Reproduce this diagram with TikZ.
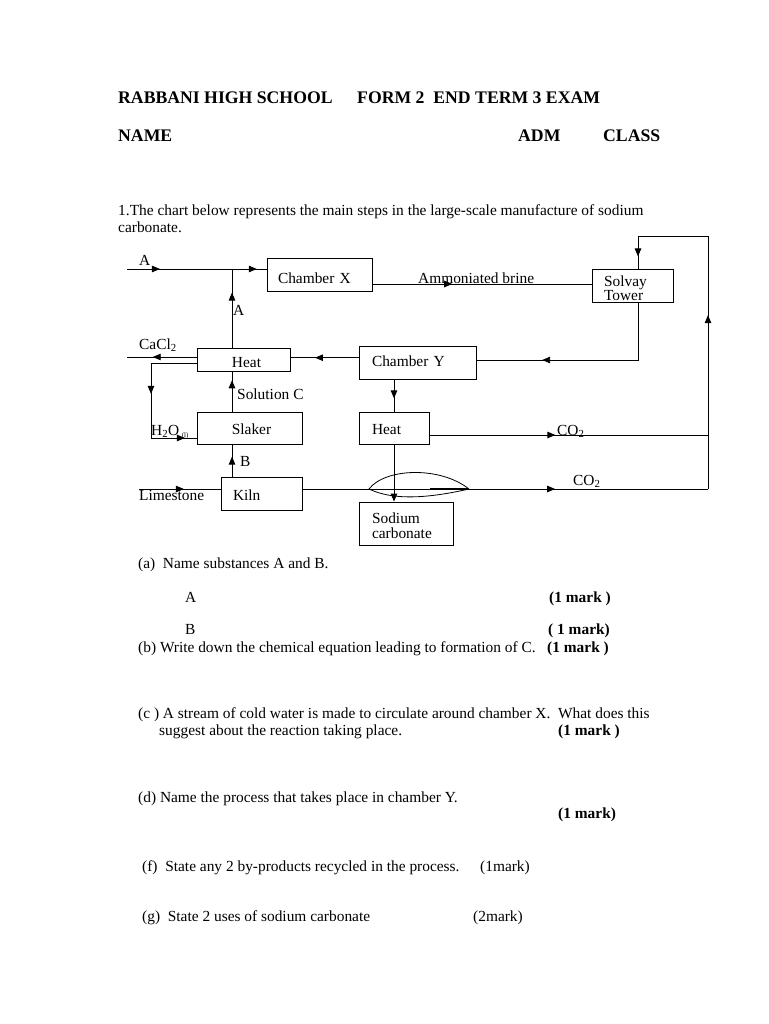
\documentclass[tikz,border=0pt]{standalone}
\usepackage{fontspec}
\setmainfont{Liberation Serif}
\usetikzlibrary{arrows.meta,decorations.markings,calc}
\newcommand\bodyfont{\fontsize{15.4}{14}\selectfont}
\newcommand\twolinefont{\fontsize{15.4}{15}\selectfont}
\newcommand\headfont{\fontsize{17.7}{20}\selectfont\bfseries}
\tikzset{
  flowtip/.style={postaction={decorate,decoration={markings,
      mark=at position #1 with {\arrow{Triangle[length=8pt,width=6.5pt]}}}}},
  flow/.style={line width=0.9pt},
  box/.style={draw,line width=0.9pt,inner sep=0pt,font=\bodyfont,align=left},
  txt/.style={anchor=base west,inner sep=0pt,font=\bodyfont},
  head/.style={anchor=base west,inner sep=0pt,font=\headfont},
  marktxt/.style={anchor=base west,inner sep=0pt,font=\bodyfont\bfseries},
}
\begin{document}
\begin{tikzpicture}[x=1pt,y=-1pt]
\useasboundingbox[fill=white] (0,0) rectangle (768,1024);

% ---------- header ----------
\node[head] (t1) at (118,104) {RABBANI HIGH SCHOOL};
\node[head] (t2) at (357,104) {FORM 2\ \ END TERM 3 EXAM};
\node[head] (nm) at (118,142) {NAME};
\node[head] (adm) at (518,142) {ADM};
\node[head] (cls) at (603,142) {CLASS};
\node[txt] (q1a) at (118,216) {1.The chart below represents the main steps in the large-scale manufacture of sodium};
\node[txt] (q1b) at (118,233) {carbonate.};

% ---------- boxes ----------
\node[box,minimum width=105pt,minimum height=33pt,text width=83pt,inner xsep=11pt,
      text height=17pt,text depth=0pt] (chX) at (319.5,274.5) {Chamber X};
\node[box,font=\bodyfont,minimum width=81pt,minimum height=33pt,text width=57pt,inner xsep=12pt,
      text height=17pt,text depth=16pt] (solvay) at (632.5,285.5) {Solvay\\Tower};
\node[box,minimum width=117pt,minimum height=33pt,text width=91pt,inner xsep=13pt,
      text height=7pt,text depth=0pt] (chY) at (417.5,362.5) {Chamber Y};
\node[box,align=center,minimum width=93pt,minimum height=23pt,text width=93pt,inner xsep=0pt,
      text height=15pt,text depth=0pt] (heatA) at (243.5,359.5) {\hspace*{6pt}Heat};
\node[box,align=center,minimum width=105pt,minimum height=32pt,text width=105pt,inner xsep=0pt,
      text height=12pt,text depth=0pt] (slaker) at (249.5,428) {\hspace*{4pt}Slaker};
\node[box,minimum width=70pt,minimum height=32pt,text width=44pt,inner xsep=13pt,
      text height=12pt,text depth=0pt] (heatB) at (394,428) {Heat};
\node[box,minimum width=81pt,minimum height=33pt,text width=57pt,inner xsep=12pt,
      text height=13pt,text depth=0pt] (kiln) at (261.5,493.5) {Kiln};
\node[box,font=\twolinefont,minimum width=94pt,minimum height=43pt,text width=68pt,inner xsep=13pt,
      text height=21pt,text depth=22pt] (soda) at (406,523.5) {Sodium\\carbonate};

% ---------- free ends ----------
\coordinate (aIn) at (127,269);
\coordinate (jA) at (232,269);
\coordinate (tl) at (638,236);
\coordinate (tr) at (708,236);
\coordinate (br) at (708,489);
\coordinate (cacl) at (127,357);
\coordinate (wl) at (151,363);
\coordinate (lime) at (139,489);

% ---------- connectors ----------
\draw[flow,flowtip=0.236,flowtip=0.93] (aIn) -- (aIn -| chX.west);
\draw[flow,flowtip=0.70] (jA |- heatA.north) -- (jA);
\draw[flow,flowtip=0.364] ([yshift=-9.5pt]chX.east) -- ([yshift=-9.5pt]chX.east -| solvay.west);
\draw[flow,flowtip=0.489,flowtip=0.966] (br) -- (tr) -- (tl) -- (tl |- solvay.north);
\draw[flow,flowtip=0.70] (tl |- solvay.south) |- ([yshift=2.5pt]chY.east);
\draw[flow,flowtip=0.64] ([yshift=4.8pt]chY.west) -- ([yshift=4.8pt]chY.west -| heatA.east);
\draw[flow,flowtip=0.63] ([yshift=2.5pt]heatA.west) -- (cacl);
\draw[flow,flowtip=0.46,flowtip=0.93] (wl -| heatA.west) -- (wl) -- (wl |- 0,438) -- (slaker.west |- 0,438);
\draw[flow,flowtip=0.78] (jA |- slaker.north) -- (jA |- heatA.south);
\draw[flow,flowtip=0.62] (jA |- kiln.north) -- (jA |- slaker.south);
\draw[flow,flowtip=0.55] (lime) -- (lime -| kiln.west);
\draw[flow,flowtip=0.623] (lime -| kiln.east) -- (br);
\draw[flow,flowtip=0.452] ([yshift=-7pt]heatB.east) -- ([yshift=-7pt]heatB.east -| br);
\draw[flow,flowtip=0.59] (heatB.north |- chY.south) -- (heatB.north);
\draw[flow,-{Triangle[length=8pt,width=6.5pt]}] (heatB.south) -- (soda.north -| heatB.south);

% lens on the CO2 line
\draw[line width=0.8pt] (369,489) .. controls (385,468) and (440,466) .. (469,489);
\draw[line width=0.8pt] (369,489) .. controls (392,500) and (425,499) .. (469,489);
\draw[line width=2pt] (430,489) -- (468,489);

% ---------- labels ----------
\node[txt] (lA1) at (139,265) {A};
\node[txt] (lAm) at (418,283) {Ammoniated brine};
\node[txt] (lA2) at (233,315) {A};
\node[txt] (lCa) at (139,349) {CaCl\textsubscript{2}};
\node[txt] (lSC) at (237,399) {Solution C};
\node[txt] (lH2O) at (151,435) {H\textsubscript{2}O\,\textsubscript{\scriptsize(l)}};
\node[txt] (lB) at (240,466) {B};
\node[txt] (lLi) at (139,500) {Limestone};
\node[txt] (lCO1) at (557,435) {CO\textsubscript{2}};
\node[txt] (lCO2) at (573,485) {CO\textsubscript{2}};

% ---------- questions ----------
\node[txt] (qa) at (138,568) {(a)\ \ Name substances A and B.};
\node[txt] (qaA) at (185,602) {A};
\node[marktxt] (mA) at (549,602) {(1 mark )};
\node[txt] (qaB) at (185,634) {B};
\node[marktxt] (mB) at (548,634) {( 1 mark)};
\node[txt] (qb) at (138,652) {(b) Write down the chemical equation leading to formation of C.};
\node[marktxt] (mb) at (547,652) {(1 mark )};
\node[txt] (qc1) at (138,718) {(c ) A stream of cold water is made to circulate around chamber X.\ \ What does this};
\node[txt] (qc2) at (159,735) {suggest about the reaction taking place.};
\node[marktxt] (mc) at (558,735) {(1 mark )};
\node[txt] (qd) at (138,802) {(d) Name the process that takes place in chamber Y.};
\node[marktxt] (md) at (558,818) {(1 mark)};
\node[txt] (qf) at (142,871) {(f)\ \ State any 2 by-products recycled in the process.};
\node[txt] (mf) at (480,871) {(1mark)};
\node[txt] (qg) at (142,921) {(g)\ \ State 2 uses of sodium carbonate};
\node[txt] (mg) at (473,921) {(2mark)};
\end{tikzpicture}
\end{document}
